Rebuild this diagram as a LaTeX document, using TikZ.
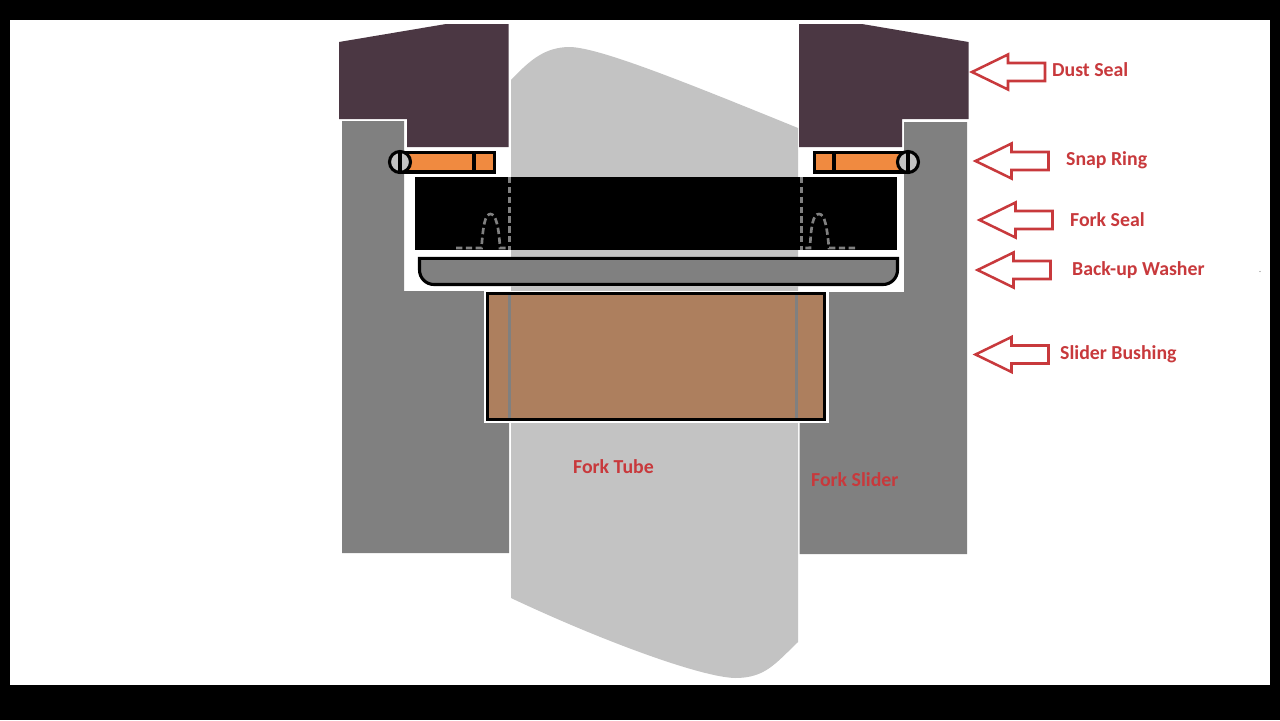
\documentclass[tikz,border=0pt]{standalone}
\usepackage{fontspec}
\setmainfont{Carlito}
\definecolor{seal}{HTML}{4B3743}
\definecolor{slider}{HTML}{808080}
\definecolor{tube}{HTML}{C3C3C3}
\definecolor{ringc}{HTML}{F08A40}
\definecolor{bush}{HTML}{AD7F5E}
\definecolor{redc}{HTML}{C8393C}
\tikzset{
  x=0.05cm,y=-0.05cm,
  sealpart/.style={fill=seal,draw=none},
  sliderpart/.style={fill=slider,draw=none},
  ringpart/.style={fill=ringc,draw=black,line width=4.4pt,line join=miter},
  ringball/.style={fill=tube,draw=black,line width=4.4pt},
  blackline/.style={draw=black,line width=4.4pt},
  hidden/.style={draw=slider,line width=3.8pt,dash pattern=on 9pt off 5pt},
  graysep/.style={draw=slider,line width=4.2pt},
  lab/.style={anchor=west,inner sep=0pt,text=redc,font=\fontsize{28.2}{32}\selectfont\bfseries},
  pics/redarrow/.style={code={
    \draw[draw=redc,fill=white,line width=3.6pt,line join=miter]
      (0,0)--(36,-17.5)--(36,-9)--(73,-9)--(73,9)--(36,9)--(36,17.5)--cycle;
  }}
}
\begin{document}
\begin{tikzpicture}
\useasboundingbox (0,0) rectangle (1280,720);
\fill[black] (0,0) rectangle (1280,720);
\fill[white] (10,20) rectangle (1270,685);
% fork tube
\fill[tube] (511,80) .. controls (530,60) and (545,47) .. (570,47)
  .. controls (600,48) and (680,80) .. (798,128)
  -- (798,642) .. controls (775,664) and (765,678) .. (735,678)
  .. controls (700,677) and (600,640) .. (511,598) -- cycle;
% fork slider
\fill[sliderpart] (342,121)--(404,121)--(404,291)--(484,291)--(484,423)--(509,423)--(509,553)--(342,553)--cycle;
\fill[sliderpart] (967,122)--(904,122)--(904,292)--(829,292)--(829,423)--(799.5,423)--(799.5,554)--(967,554)--cycle;
% dust seal
\fill[sealpart] (339,42)--(446,24)--(508.5,24)--(508.5,147)--(407,147)--(407,119)--(339,119)--cycle;
\fill[sealpart] (968.5,42)--(862,24)--(799,24)--(799,147)--(902,147)--(902,119)--(968.5,119)--cycle;
% fork seal
\fill[black] (415,177) rectangle (897,250);
\draw[hidden] (509.5,177)--(509.5,250);
\draw[hidden] (801.5,177)--(801.5,250);
\draw[hidden] (456,248)--(481.5,248) .. controls (483,226) and (485,214) .. (490.5,214) .. controls (496,214) and (499,228) .. (500,248)--(509,248);
\draw[hidden] (855,248)--(829,248) .. controls (827,228) and (825,214) .. (819,214) .. controls (813,214) and (811,226) .. (810,248)--(801,248);
% back-up washer
\draw[blackline,fill=slider] (419.5,258.3)--(897.5,258.3)--(897.5,270) arc[start angle=0,end angle=90,radius=14.5]--(434,284.5) arc[start angle=90,end angle=180,radius=14.5]--cycle;
% bushing
\fill[white] (484,291) rectangle (829,423);
\fill[tube] (511,286) rectangle (798,291);
\draw[blackline,fill=bush] (487.5,293.5) rectangle (824.5,419.5);
\draw[graysep] (509.5,295)--(509.5,418);
\draw[graysep] (796.5,295)--(796.5,418);
% snap rings
\draw[ringpart] (400,152.5) rectangle (494.5,172);
\draw[ringpart] (474,152.5)--(474,172);
\draw[ringball] (400,162) circle[radius=10.5];
\draw[blackline] (400,151)--(400,173);
\draw[ringpart] (814.5,152.5) rectangle (908,172);
\draw[ringpart] (834,152.5)--(834,172);
\draw[ringball] (908,162) circle[radius=10.5];
\draw[blackline] (908,151)--(908,173);
% arrows
\pic at (972,72) {redarrow};
\pic at (975.5,161) {redarrow};
\pic at (979.5,220) {redarrow};
\pic at (977.5,270) {redarrow};
\pic at (975.5,354.5) {redarrow};
% labels
\node[lab] (dust) at (1052,69.5) {Dust Seal};
\node[lab] (snap) at (1066,160) {Snap Ring};
\node[lab] (forkseal) at (1070,220) {Fork Seal};
\node[lab] (backup) at (1072,270) {Back-up Washer};
\node[lab] (bushing) at (1060,354) {Slider Bushing};
\node[lab] (forktube) at (573,467) {Fork Tube};
\node[lab] (forkslider) at (811,479.5) {Fork Slider};
\fill[slider] (1260,271.5) circle[radius=0.6];
\end{tikzpicture}
\end{document}
